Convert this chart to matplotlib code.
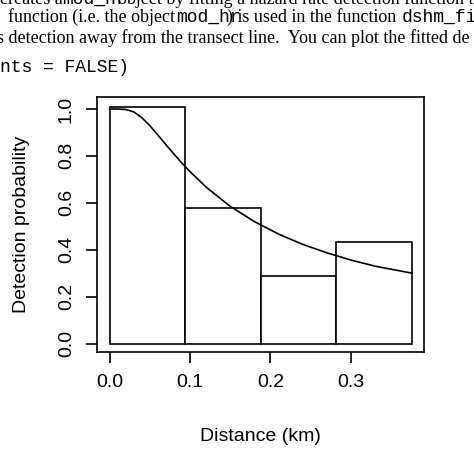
import matplotlib
matplotlib.use("Agg")
import matplotlib.pyplot as plt
import numpy as np

bin_edges = [0.0, 0.094, 0.188, 0.282, 0.376]
bin_heights = [1.01, 0.578, 0.289, 0.434]
curve_x = [0.0, 0.01, 0.02, 0.03, 0.04, 0.05, 0.06, 0.07, 0.08, 0.09, 0.10, 0.12, 0.15,
           0.18, 0.21, 0.24, 0.27, 0.30, 0.33, 0.376]
curve_y = [1.0, 1.0, 0.998, 0.988, 0.963, 0.929, 0.889, 0.848, 0.808, 0.769, 0.733, 0.667,
           0.585, 0.520, 0.467, 0.423, 0.387, 0.356, 0.330, 0.300]
xticks = [0.0, 0.1, 0.2, 0.3]
yticks = [0.0, 0.2, 0.4, 0.6, 0.8, 1.0]

plt.rcParams["font.family"] = ["Liberation Sans", "DejaVu Sans"]
fig = plt.figure(figsize=(4.74, 4.61), dpi=100)
ax = fig.add_axes([0.205, 0.236, 0.689, 0.554])
widths = np.diff(bin_edges)
ax.bar(bin_edges[:-1], bin_heights, width=widths, align="edge",
       facecolor="white", edgecolor="black", linewidth=1.2)
ax.plot(curve_x, curve_y, color="black", linewidth=1.2)
ax.set_xlim(-0.0155, 0.3907)
ax.set_ylim(-0.037, 1.052)
ax.set_xticks(xticks)
ax.set_xticklabels([f"{v:.1f}" for v in xticks])
ax.set_yticks(yticks)
ax.set_yticklabels([f"{v:.1f}" for v in yticks], rotation=90, va="center")
ax.tick_params(direction="out", length=8, width=1.2, labelsize=14, pad=8)
for s in ax.spines.values():
    s.set_linewidth(1.2)
ax.set_xlabel("Distance (km)", fontsize=14, labelpad=26)
ax.set_ylabel("Detection probability", fontsize=14, labelpad=20)

serif = "Liberation Serif"
mono = "Liberation Mono"
fs = 13
def t(x, y, s, fam):
    fig.text(x / 474, 1 - y / 461, s, family=fam, fontsize=fs, va="center", ha="left")
t(0, -1, "creates a", serif); t(62, -1, "mod_hr", mono); t(118, -1, "object by fitting a hazard rate detection function t", serif)
t(8, 17, "function (i.e. the object", serif); t(176, 17, "mod_hr", mono)
t(227, 17, ") is used in the function", serif); t(402, 17, "dshm_fit", mono)
t(-3, 38, "s detection away from the transect line.  You can plot the fitted de", serif)
t(0, 67, "nts = FALSE)", mono)

fig.savefig("out.png", dpi=100)
